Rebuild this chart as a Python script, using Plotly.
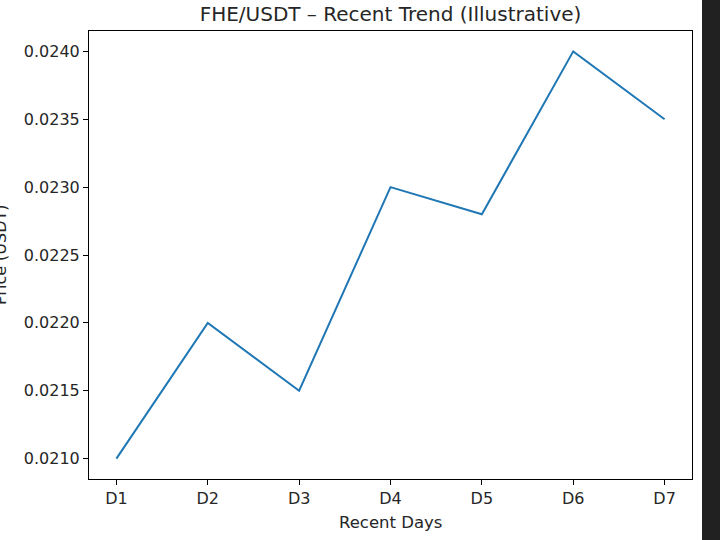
import plotly.graph_objects as go

days = ["D1", "D2", "D3", "D4", "D5", "D6", "D7"]
prices = [0.0210, 0.0220, 0.0215, 0.0230, 0.0228, 0.0240, 0.0235]
y_ticks = [0.0210, 0.0215, 0.0220, 0.0225, 0.0230, 0.0235, 0.0240]

title_text = "FHE/USDT – Recent Trend (Illustrative)"
x_label = "Recent Days"
y_label = "Price (USDT)"

FONT = "DejaVu Sans"
TXT = "#262626"

fig = go.Figure()
fig.add_trace(go.Scatter(
    x=list(range(len(days))), y=prices, mode="lines",
    line=dict(color="#1f77b4", width=2), showlegend=False,
))

pad_x = 0.05 * (len(days) - 1)
pad_y = 0.05 * (max(prices) - min(prices))

L, R, T, B = 89, 692, 31, 479
W = R - L
H = B - T

fig.update_layout(
    width=720, height=540,
    margin=dict(l=L, r=720 - R, t=T, b=540 - B, autoexpand=False),
    paper_bgcolor="white", plot_bgcolor="white",
    font=dict(family=FONT, size=16, color=TXT),
    title=dict(text=title_text, x=0.5, xref="paper", xanchor="center",
               y=1 - 14 / 540, yref="container", yanchor="middle",
               font=dict(family=FONT, size=20, color=TXT)),
    xaxis=dict(
        range=[-pad_x, len(days) - 1 + pad_x],
        tickmode="array", tickvals=list(range(len(days))), ticktext=days,
        showgrid=False, zeroline=False,
        showline=True, linecolor="black", linewidth=1, mirror=True,
        ticks="outside", ticklen=5, tickcolor="black",
        tickfont=dict(family=FONT, size=16, color=TXT),
        automargin=False,
    ),
    yaxis=dict(
        range=[min(prices) - pad_y, max(prices) + pad_y],
        tickmode="array", tickvals=y_ticks, tickformat=".4f",
        showgrid=False, zeroline=False,
        showline=True, linecolor="black", linewidth=1, mirror=True,
        ticks="outside", ticklen=5, tickcolor="black",
        tickfont=dict(family=FONT, size=16, color=TXT),
        automargin=False,
    ),
    annotations=[
        dict(
            text=y_label, textangle=-90, xref="paper", yref="paper",
            x=(0 - L) / W, y=0.5, xanchor="center", yanchor="middle",
            showarrow=False, font=dict(family=FONT, size=16, color=TXT),
        ),
        dict(
            text=x_label, xref="paper", yref="paper",
            x=0.5, y=-(522 - B) / H, xanchor="center", yanchor="middle",
            showarrow=False, font=dict(family=FONT, size=16.5, color=TXT),
        ),
    ],
    shapes=[dict(
        type="rect", xref="paper", yref="paper",
        x0=(702 - L) / W, x1=(740 - L) / W, y0=-0.3, y1=1.3,
        fillcolor="#212121", line=dict(width=0), layer="above",
    )],
)

fig.write_html(
    "out.html",
    config={"displayModeBar": False},
    post_script="document.body.style.margin='0';document.body.style.padding='0';",
)
